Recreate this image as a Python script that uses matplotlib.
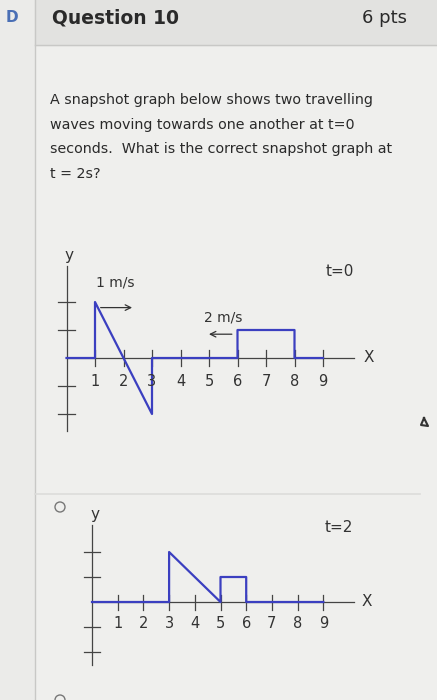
import numpy as np
import matplotlib
matplotlib.use('Agg')
from matplotlib import pyplot as plt
from matplotlib.patches import Rectangle, Circle

# data
x_ticks = [1, 2, 3, 4, 5, 6, 7, 8, 9]
wave_t0_x = [0, 1, 1, 3, 3, 6, 6, 8, 8, 9]
wave_t0_y = [0, 0, 2, 0 - 2, 0, 0, 1, 1, 0, 0]
wave_t2_x = [0, 3, 3, 5, 5, 6, 6, 9]
wave_t2_y = [0, 0, 2, 0, 1, 1, 0, 0]
y_ticks = [-2, -1, 1, 2]

W, H = 437, 700
fig = plt.figure(figsize=(W / 100, H / 100), dpi=100)
fig.patch.set_facecolor('#ebebe9')
bg = fig.add_axes([0, 0, 1, 1])
bg.set_xlim(0, W)
bg.set_ylim(H, 0)
bg.axis('off')

# page background
bg.add_patch(Rectangle((35, 0), 402, 700, color='#efefed', zorder=0))
bg.add_patch(Rectangle((35, 0), 402, 45, color='#e2e2e0', zorder=1))
bg.plot([35, 35], [0, 700], color='#c8c8c6', lw=1)
bg.plot([35, 437], [45, 45], color='#c8c8c6', lw=1)
bg.plot([35, 420], [494, 494], color='#dcdcda', lw=1.2)
bg.text(6, 18, 'D', color='#4a6fb5', fontsize=11, va='center', weight='bold')
bg.text(52, 18, 'Question 10', fontsize=13.5, weight='bold', va='center', color='#2a2a2a')
bg.text(407, 18, '6 pts', fontsize=13, va='center', ha='right', color='#2a2a2a')

para = ['A snapshot graph below shows two travelling',
        'waves moving towards one another at t=0',
        'seconds.  What is the correct snapshot graph at',
        't = 2s?']
for i, line in enumerate(para):
    bg.text(50, 100 + i * 24.5, line, fontsize=10.3, va='center', color='#2a2a2a')

bg.add_patch(Circle((60, 507), 5, fill=False, ec='#777777', lw=1))
bg.add_patch(Circle((60, 700), 5, fill=False, ec='#777777', lw=1))
bg.plot([424, 428, 421, 424], [418, 426, 425, 418], color='#333333', lw=1.5)


def make_axes(ox, oy, sx, sy, xlim, ylim):
    # build axes so that data (0,0) lands on pixel (ox, oy)
    left = ox + xlim[0] * sx
    right = ox + xlim[1] * sx
    top = oy - ylim[1] * sy
    bot = oy - ylim[0] * sy
    ax = fig.add_axes([left / W, 1 - bot / H, (right - left) / W, (bot - top) / H])
    ax.set_xlim(*xlim)
    ax.set_ylim(*ylim)
    ax.axis('off')
    return ax


def draw_graph(ax, wx, wy, label, xend, yext, lx, ly):
    ax.plot([0, 0], yext, color='#444444', lw=0.9)
    ax.plot([0, xend], [0, 0], color='#444444', lw=0.9)
    for t in y_ticks:
        ax.plot([-0.3, 0.3], [t, t], color='#444444', lw=0.9)
    for t in x_ticks:
        ax.plot([t, t], [-0.3, 0.3], color='#444444', lw=0.9)
        ax.text(t, -0.85, str(t), ha='center', va='center', fontsize=10.5, color='#333333')
    ax.text(xend + 0.5, 0, 'X', ha='center', va='center', fontsize=11, color='#333333')
    ax.text(0.1, yext[1] + 0.1, 'y', ha='center', va='bottom', fontsize=11, color='#333333')
    ax.text(lx, ly, label, ha='center', va='center', fontsize=11, color='#333333')
    ax.plot(wx, wy, color='#3b3fc0', lw=1.6)


ax1 = make_axes(66.5, 358, 28.5, 28, (-1, 11.5), (-3, 4))
draw_graph(ax1, wave_t0_x, wave_t0_y, 't=0', 10.1, (-2.6, 3.3), 9.6, 3.1)
ax1.text(1.7, 2.7, '1 m/s', ha='center', va='center', fontsize=10, color='#333333')
ax1.annotate('', xy=(2.4, 1.8), xytext=(1.1, 1.8),
             arrowprops=dict(arrowstyle='->', color='#333333', lw=0.9))
ax1.text(5.5, 1.45, '2 m/s', ha='center', va='center', fontsize=10, color='#333333')
ax1.annotate('', xy=(4.9, 0.85), xytext=(5.9, 0.85),
             arrowprops=dict(arrowstyle='->', color='#333333', lw=0.9))

ax2 = make_axes(92, 602, 25.7, 25, (-1.5, 12.5), (-3, 4))
draw_graph(ax2, wave_t2_x, wave_t2_y, 't=2', 10.2, (-2.5, 3.1), 9.6, 3.0)

fig.savefig('out.png', dpi=100, facecolor=fig.get_facecolor())
